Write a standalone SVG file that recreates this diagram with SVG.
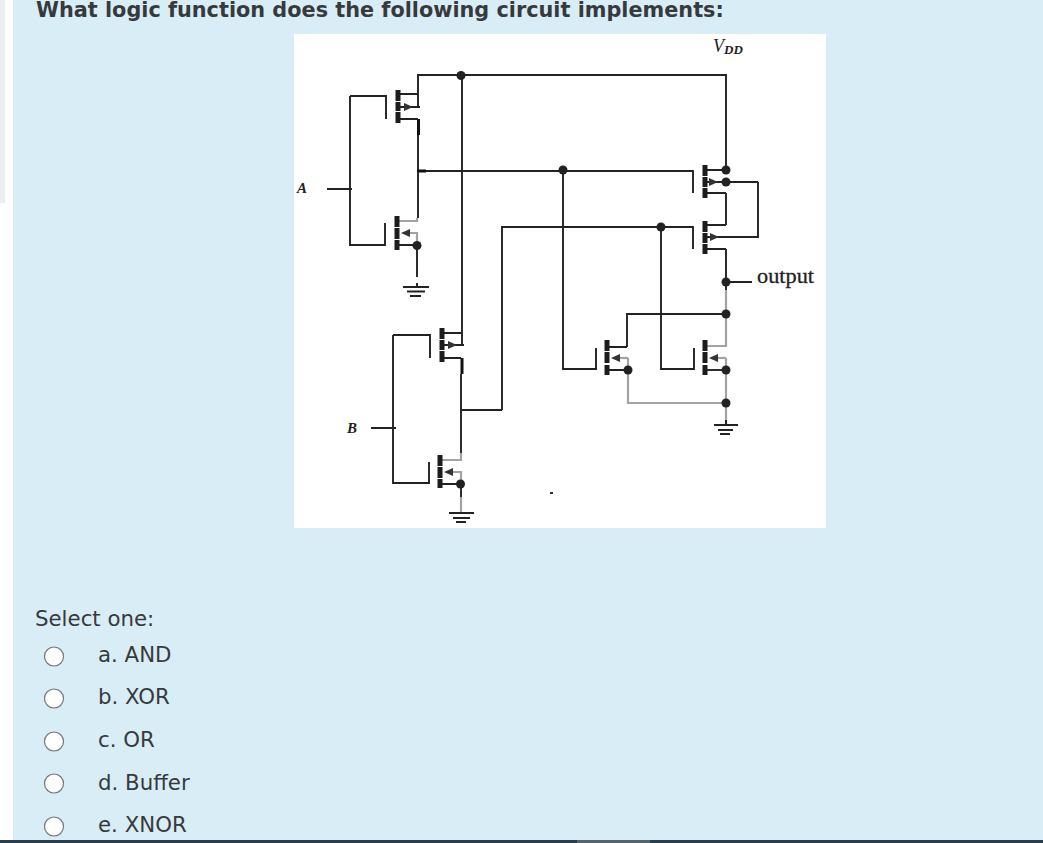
<svg xmlns="http://www.w3.org/2000/svg" width="1043" height="843" viewBox="0 0 1043 843">
<style>
.w{fill:none;stroke:#222;stroke-width:1.9}
.g{fill:none;stroke:#a3a3a3;stroke-width:2.2}
.t{fill:none;stroke:#111;stroke-width:3}
.b{fill:none;stroke:#1c1c1c;stroke-width:5}
.d{fill:#222}
.a{fill:#333}
.ui{font-family:"DejaVu Sans",Verdana,sans-serif;fill:#373a3c;font-size:21.3px}
.s{font-family:"Liberation Serif","Times New Roman",serif;fill:#222}
.r{fill:#fff;stroke:#777;stroke-width:1.2}
</style>
<rect width="1043" height="843" fill="#fff"/>
<rect x="0" y="0" width="5" height="203" fill="#eeeeee"/>
<rect x="13" y="0" width="1030" height="840" fill="#d9edf7"/>
<rect x="0" y="840" width="1043" height="3" fill="#2a3d4d"/>
<rect x="577" y="840" width="73" height="3" fill="#56636c"/>
<text id="title" x="36" y="16.500" class="ui" style="font-size:20.8px;font-weight:700">What logic function does the following circuit implements:</text>
<rect x="294" y="34" width="532" height="494" fill="#fff"/>
<g id="connectors">
<path class="w" d="M417 75H726V170M418 75V107M462 75V345M418 135V218M418 171H693V193M563 170V369H596V348M502 410V227H693V249M661 227V369H694V348M461 374V453M461 410H502M726 193V225M726 249V290M726 282H752M627 347V314H726M758 182V237H716M726 182H758"/>
<path class="w" d="M327 189H352M350 96H386V119M350 96V245H385V223M371 428H396M393 335H430V358M393 335V483H429V462"/>
<path class="g" d="M726 290V346H707M628 358V403H726M726 358V424M461 453V460H442M417 218V221H399"/>
<path class="t" d="M418.500 119V135M462 358V374M417 171H426"/>
<circle class="d" cx="461" cy="75.500" r="4.500"/>
<circle class="d" cx="563" cy="170" r="4.500"/>
<circle class="d" cx="661" cy="227" r="4.500"/>
<circle class="d" cx="726" cy="282" r="4.500"/>
<circle class="d" cx="726" cy="314" r="4.500"/>
<circle class="d" cx="726" cy="403" r="4.500"/>
<rect x="550" y="492" width="3" height="2" fill="#333"/>
</g>
<g id="pmos-a">
<path class="w" d="M398 94H418M398 107H420M398 119H418"/>
<path class="b" d="M398 90V101M398 102V111M398 112V123"/>
<path class="a" d="M404 103L413 107L404 111Z"/>
</g>
<g id="nmos-a">
<path class="g" d="M407 233H417V245"/>
<path class="w" d="M397 245H417V277"/>
<path class="b" d="M397 216V227M397 228V239M397 240V250"/>
<path class="a" d="M401 233L410 229V237Z"/>
<circle class="d" cx="417" cy="245.500" r="4.500"/>
</g>
<g id="pmos-b">
<path class="w" d="M442 333H462M442 345H464M442 358H461"/>
<path class="b" d="M442 328V339M442 340V350M442 351V362"/>
<path class="a" d="M448 341L457 345L448 349Z"/>
</g>
<g id="nmos-b">
<path class="g" d="M450 472H461V484M461 497V512"/>
<path class="w" d="M440 484H461V497"/>
<path class="b" d="M440 455V466M440 467V478M440 479V488"/>
<path class="a" d="M444 472L453 468V476Z"/>
<circle class="d" cx="460.500" cy="484" r="4.500"/>
</g>
<g id="pmos-a2">
<path class="w" d="M705 170H726M705 182H726M705 193H726"/>
<path class="b" d="M705 165V176M705 177V187M705 188V198"/>
<path class="a" d="M709 178L718 182L709 186Z"/>
<circle class="d" cx="726" cy="170" r="4.500"/>
<circle class="d" cx="726" cy="182" r="4.500"/>
</g>
<g id="pmos-b2">
<path class="w" d="M705 225H726M705 237H720M705 249H726"/>
<path class="b" d="M705 221V232M705 233V243M705 244V254"/>
<path class="a" d="M710 233L719 237L710 241Z"/>
</g>
<g id="nmos-a2">
<path class="w" d="M607 347H627M607 370H628"/>
<path class="g" d="M617 358H628"/>
<path class="b" d="M607 340V351M607 352V363M607 365V375"/>
<path class="a" d="M611 358L620 354V362Z"/>
<circle class="d" cx="628" cy="370" r="4.500"/>
</g>
<g id="nmos-b2">
<path class="w" d="M705 370H726"/>
<path class="g" d="M715 358H726"/>
<path class="b" d="M705 340V351M705 352V363M705 365V375"/>
<path class="a" d="M709 358L718 354V362Z"/>
<circle class="d" cx="726" cy="370" r="4.500"/>
</g>
<g id="grounds">
<path class="w" d="M417 283V286M403 287H429M407 291.500H425M410 296H421"/>
<path class="w" d="M461 512V513M449 513H474M453 518H470M456 522H466"/>
<path class="w" d="M726 420V425M714 425H738M718 430H733M720 434H730"/>
</g>
<g id="labels">
<text class="s" x="713" y="52" font-size="18" font-style="italic" fill="#444">V<tspan font-size="13" dy="2" font-weight="700">DD</tspan></text>
<text class="s" x="297" y="193" font-size="15" font-style="italic" font-weight="700" fill="#666">A</text>
<text class="s" x="347" y="433" font-size="15" font-style="italic" font-weight="700" fill="#666">B</text>
<text class="s" x="757" y="283" font-size="22" textLength="57" lengthAdjust="spacingAndGlyphs" stroke="#222" stroke-width="0.3">output</text>
</g>
<g id="question">
<text class="ui" x="35" y="625.500">Select one:</text>
<circle class="r" cx="54" cy="656.500" r="9.500"/><text class="ui" x="98" y="662">a. AND</text>
<circle class="r" cx="54" cy="698.500" r="9.500"/><text class="ui" x="98" y="704">b. XOR</text>
<circle class="r" cx="54" cy="741.500" r="9.500"/><text class="ui" x="98" y="747">c. OR</text>
<circle class="r" cx="54" cy="783.500" r="9.500"/><text class="ui" x="98" y="790">d. Buffer</text>
<circle class="r" cx="54" cy="826.500" r="9.500"/><text class="ui" x="98" y="832">e. XNOR</text>
</g>
</svg>
